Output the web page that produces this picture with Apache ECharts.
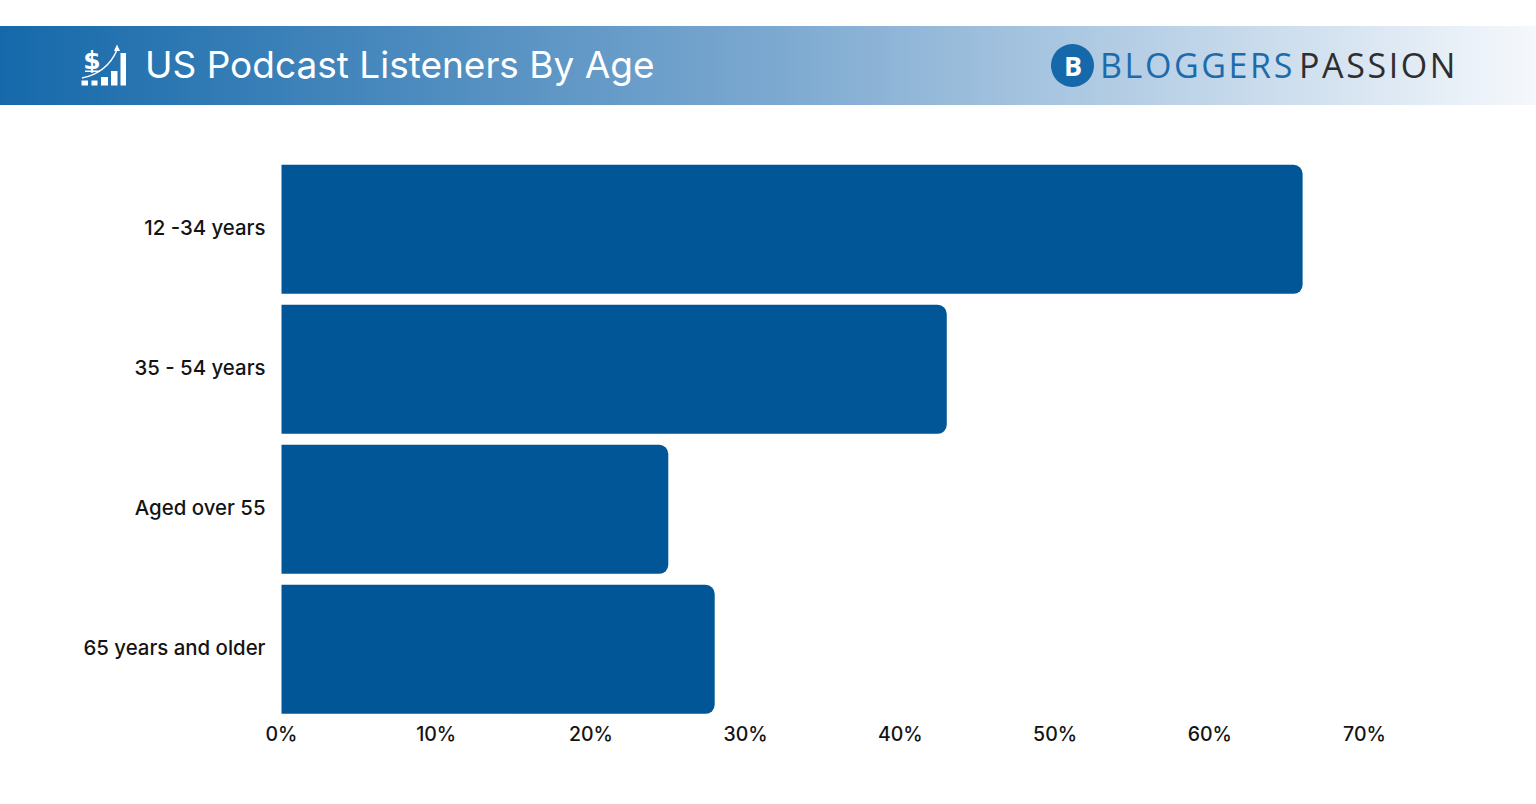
<!DOCTYPE html>
<html><head><meta charset="utf-8">
<style>html,body{margin:0;padding:0;background:#fff}#c{width:1536px;height:804px}</style>
<script src="https://cdn.jsdelivr.net/npm/echarts@6/dist/echarts.min.js"></script></head>
<body><div id="c"></div>
<script>
const categories = ['12 -34 years','35 - 54 years','Aged over 55','65 years and older'];
const listeners = [66,43,25,28];
const axisTicks = [0,10,20,30,40,50,60,70];
const chartTitle = 'US Podcast Listeners By Age';
const brandA = 'BLOGGERS', brandB = 'PASSION';
const ch = echarts.init(document.getElementById('c'),null,{renderer:'svg'});
const iconBars = [[81.5,80.5,6.5,5],[91.5,80.5,6,5],[101,77,7,8.5],[111,71,6.5,14.5],[120.5,53,5.5,32.5]];
ch.setOption({
  animation:false,
  backgroundColor:'#fff',
  grid:{left:281.5,top:159.3,width:1083,height:560,containLabel:false},
  xAxis:{type:'value',min:axisTicks[0],max:axisTicks[axisTicks.length-1],interval:10,
    axisLine:{show:false},axisTick:{show:false},splitLine:{show:false},
    axisLabel:{margin:5,color:'#141414',fontFamily:'Inter',fontWeight:500,fontSize:19.5,formatter:'{value}%',hideOverlap:false}},
  yAxis:{type:'category',inverse:true,data:categories,
    axisLine:{show:false},axisTick:{show:false},splitLine:{show:false},
    axisLabel:{margin:16,color:'#141414',fontFamily:'Inter',fontWeight:500,fontSize:20.4,verticalAlign:'bottom',lineHeight:4}},
  series:[{type:'bar',data:listeners,barWidth:129,itemStyle:{color:'#005696',borderRadius:[0,9,9,0]}}],
  graphic:[
    {type:'rect',silent:true,z:-1,shape:{x:0,y:26,width:1536,height:79},
      style:{fill:{type:'linear',x:0,y:0,x2:1,y2:0,colorStops:[{offset:0,color:'#1569aa'},{offset:.5,color:'#7ba8d0'},{offset:1,color:'#f5f8fc'}]}}},
    {type:'text',x:145,y:64,style:{text:chartTitle,fill:'#fff',font:'400 37px Inter',textVerticalAlign:'middle'}},
    {type:'text',x:92,y:60,style:{text:'$',fill:'#fff',font:'700 25px "DejaVu Sans"',textAlign:'center',textVerticalAlign:'middle'}},
    {type:'rect',shape:{x:85,y:70.5,width:15,height:1.5},style:{fill:'#fff'}},
    {type:'bezierCurve',shape:{x1:82,y1:78,cpx1:107,cpy1:73,x2:117,y2:50},style:{fill:'none',stroke:'#fff',lineWidth:1.5}},
    {type:'polygon',shape:{points:[[117,44.5],[120,51],[114,51]]},style:{fill:'#fff'}},
    ...iconBars.map(b=>({type:'rect',shape:{x:b[0],y:b[1],width:b[2],height:b[3]},style:{fill:'#fff'}})),
    {type:'circle',shape:{cx:1072.5,cy:65.5,r:21.5},style:{fill:'#1569aa'}},
    {type:'text',x:1073,y:65,style:{text:'B',fill:'#fff',font:'700 27px "Open Sans"',textAlign:'center',textVerticalAlign:'middle'}},
    {type:'text',x:1100,y:65,style:{text:brandA,fill:'#1d6bab',font:'500 34px "Open Sans"',textVerticalAlign:'middle'}},
    {type:'text',x:1299,y:65,style:{text:brandB,fill:'#2e2e2e',font:'500 34px "Open Sans"',textVerticalAlign:'middle'}}
  ]
});
function spacing(){document.querySelectorAll('#c svg text').forEach(t=>{
  if(t.textContent===brandA)t.style.letterSpacing='2.6px';
  if(t.textContent===brandB)t.style.letterSpacing='2.6px';});}
spacing();ch.on('finished',spacing);
</script></body></html>
